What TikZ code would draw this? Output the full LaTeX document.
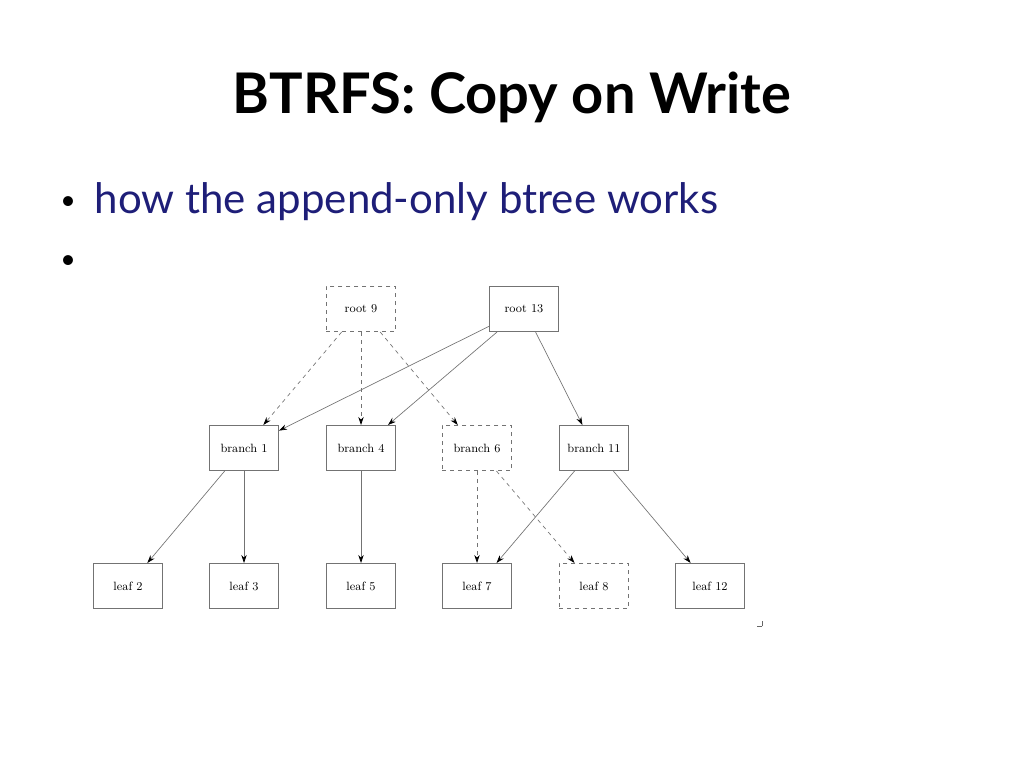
\documentclass[tikz,border=0pt]{standalone}
\usepackage{fontspec}
\setsansfont{Lato}
\usetikzlibrary{arrows.meta}
\definecolor{navy}{HTML}{1E1E78}
\begin{document}
\begin{tikzpicture}[x=0.75pt,y=-0.75pt,
  box/.style={draw=black!55,line width=0.5pt,minimum width=52pt,minimum height=34pt,inner sep=0pt,font=\fontsize{9}{11}\selectfont},
  dbox/.style={box,dashed},
  edge/.style={draw=black!55,line width=0.5pt,-{Stealth[length=6pt,width=4pt,black]}},
  dedge/.style={edge,dashed}]
\useasboundingbox (0,0) rectangle (1024,768);
\node[font=\sffamily\bfseries\fontsize{42}{48}\selectfont] (title) at (512,97) {BTRFS: Copy on Write};
\node[font=\sffamily\fontsize{20}{24}\selectfont] (b1) at (68,203) {•};
\node[anchor=west,text=navy,font=\sffamily\fontsize{31.5}{36}\selectfont] (t1) at (90,202) {how the append-only btree works};
\node[font=\sffamily\fontsize{20}{24}\selectfont] (b2) at (68,262) {•};
\node[dbox] (r9) at (361,309) {root 9};
\node[box] (r13) at (524,309) {root 13};
\node[box] (br1) at (244,448) {branch 1};
\node[box] (br4) at (361,448) {branch 4};
\node[dbox] (br6) at (477,448) {branch 6};
\node[box] (br11) at (594,448) {branch 11};
\node[box] (l2) at (128,586) {leaf 2};
\node[box] (l3) at (244,586) {leaf 3};
\node[box] (l5) at (361,586) {leaf 5};
\node[box] (l7) at (477,586) {leaf 7};
\node[dbox] (l8) at (594,586) {leaf 8};
\node[box] (l12) at (710,586) {leaf 12};
\draw[dedge] (r9) -- (br1);
\draw[dedge] (r9) -- (br4);
\draw[dedge] (r9) -- (br6);
\draw[edge] (r13) -- (br1);
\draw[edge] (r13) -- (br4);
\draw[edge] (r13) -- (br11);
\draw[edge] (br1) -- (l2);
\draw[edge] (br1) -- (l3);
\draw[edge] (br4) -- (l5);
\draw[dedge] (br6) -- (l7);
\draw[dedge] (br6) -- (l8);
\draw[edge] (br11) -- (l7);
\draw[edge] (br11) -- (l12);
\coordinate (m) at (762,626);
\draw[black!60,line width=0.5pt] (m) -- ++(-5,0) (m) -- ++(0,-5);
\end{tikzpicture}
\end{document}
